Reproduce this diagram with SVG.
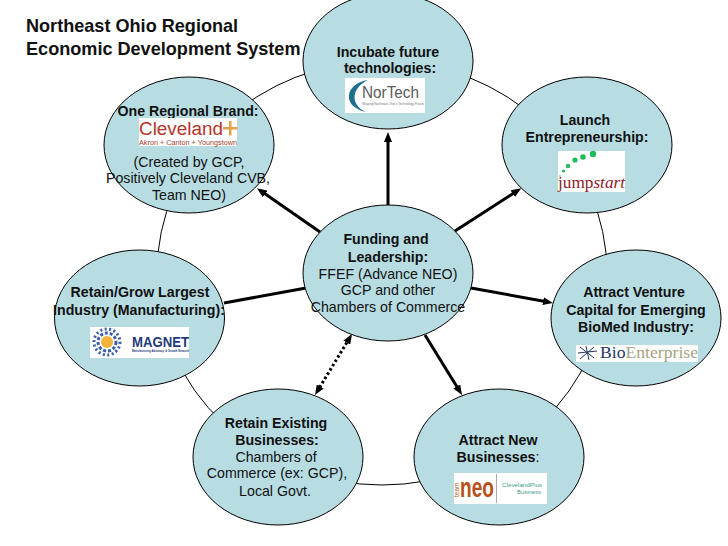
<svg xmlns="http://www.w3.org/2000/svg" width="728" height="546" viewBox="0 0 728 546">
<style>
text{font-family:"Liberation Sans",Arial,sans-serif;fill:#111}
.t{font-size:14.2px;text-anchor:middle}
.b{font-weight:bold}
.title{font-size:18.1px;font-weight:bold}
.n{fill:#b7dde3;stroke:#000;stroke-width:1}
.a{stroke:#000;stroke-width:3;fill:none}
.logo{fill:#fff}
</style>
<defs>
<marker id="ah" markerUnits="userSpaceOnUse" markerWidth="10" markerHeight="8" refX="5" refY="4" orient="auto-start-reverse" viewBox="0 0 10 8"><path d="M0 0L10 4L0 8z" fill="#000"/></marker>
</defs>
<rect width="728" height="546" fill="#fff"/>
<ellipse cx="382" cy="273" rx="225" ry="212" fill="none" stroke="#000" stroke-width="1"/>
<g id="title"><text class="title" x="26" y="32">Northeast Ohio Regional</text><text class="title" x="26" y="55">Economic Development System</text></g>
<g id="connectors">
<path class="a" d="M388 205V137" marker-end="url(#ah)"/>
<path class="a" d="M320 232L261 191" marker-end="url(#ah)"/>
<path class="a" d="M455 231L517 191" marker-end="url(#ah)"/>
<path class="a" d="M471 288L548 302" marker-end="url(#ah)"/>
<path class="a" d="M306 288L224 303"/>
<path class="a" d="M425 335L459.4 390.7" marker-end="url(#ah)"/>
<path class="a" stroke-dasharray="2.5 2.5" d="M349.4 338.3L317.6 390.7" marker-start="url(#ah)" marker-end="url(#ah)"/>
</g>
<g id="center"><ellipse class="n" cx="388" cy="273" rx="85" ry="68"/>
<text class="t b" x="386" y="244">Funding and</text><text class="t b" x="388" y="262">Leadership:</text>
<text class="t" x="388" y="279">FFEF (Advance NEO)</text><text class="t" x="388" y="295">GCP and other</text><text class="t" x="388" y="312">Chambers of Commerce</text></g>
<g id="incubate"><ellipse class="n" cx="388" cy="61" rx="85" ry="68"/>
<text class="t b" x="388" y="57">Incubate future</text><text class="t b" x="390" y="73">technologies:</text>
<rect class="logo" x="345" y="78" width="80" height="35"/>
<path d="M368 80C346 83 340 106 366 112C350 105 351 88 368 80Z" fill="#1d6f8c"/>
<text x="362" y="98" textLength="57" lengthAdjust="spacingAndGlyphs" style="font-size:17px;fill:#5a5a5a">NorTech</text>
<text x="362" y="105" textLength="62" lengthAdjust="spacingAndGlyphs" style="font-size:3.4px;fill:#777">Shaping Northeast Ohio's Technology Future</text></g>
<g id="brand"><ellipse class="n" cx="189" cy="145" rx="85" ry="68"/>
<text class="t b" x="188" y="116">One Regional Brand:</text>
<rect class="logo" x="139" y="118" width="98" height="28"/>
<text x="139" y="135" textLength="84" lengthAdjust="spacingAndGlyphs" style="font-size:18px;fill:#b5342a">Cleveland</text>
<path d="M229 121h2.500v6h6v2.500h-6v6h-2.500v-6h-6v-2.500h6z" fill="#e5a04a"/>
<text x="139" y="144.500" textLength="98" lengthAdjust="spacingAndGlyphs" style="font-size:6.600px;fill:#a8402f">Akron + Canton + Youngstown</text>
<text class="t" x="189" y="167">(Created by GCP,</text><text class="t" x="188" y="183">Positively Cleveland CVB,</text><text class="t" x="189" y="200">Team NEO)</text></g>
<g id="launch"><ellipse class="n" cx="587" cy="145" rx="85" ry="68"/>
<text class="t b" x="585" y="125">Launch</text><text class="t b" x="587" y="142">Entrepreneurship:</text>
<rect class="logo" x="558" y="151" width="67" height="41"/>
<g fill="#1fbd5a"><circle cx="593" cy="154" r="3.200"/><circle cx="583" cy="157" r="2.800"/><circle cx="575" cy="160" r="2.600"/><circle cx="568" cy="166" r="2.200"/><circle cx="563.500" cy="171" r="1.600"/><circle cx="560" cy="176" r=".8"/></g>
<text x="558" y="188" textLength="67" lengthAdjust="spacingAndGlyphs" style="font-size:17px;font-family:'Liberation Serif',serif;fill:#8c1c2c">jump<tspan font-style="italic" style="fill:#8c1c2c">start</tspan></text></g>
<g id="venture"><ellipse class="n" cx="636" cy="318" rx="85" ry="68"/>
<text class="t b" x="634" y="297">Attract Venture</text><text class="t b" x="636" y="315">Capital for Emerging</text><text class="t b" x="636" y="332">BioMed Industry:</text>
<rect class="logo" x="576" y="345" width="122" height="17"/>
<path d="M578 353L597 351M586 346L589 360M580 347L594 358M594 347L580 359" stroke="#24365f" stroke-width="1"/>
<text x="600" y="358" textLength="98" lengthAdjust="spacingAndGlyphs" style="font-size:17px;font-family:'Liberation Serif',serif;fill:#24365f">Bio<tspan style="fill:#a5a47f">Enterprise</tspan></text></g>
<g id="retain-largest"><ellipse class="n" cx="139.500" cy="318" rx="85" ry="68"/>
<text class="t b" x="140" y="297">Retain/Grow Largest</text><text class="t b" x="139" y="315">Industry (Manufacturing):</text>
<rect class="logo" x="90" y="327" width="99" height="31"/>
<circle cx="107" cy="342" r="13" fill="none" stroke="#3a5fa8" stroke-width="3" stroke-dasharray="2 2.500"/><circle cx="107" cy="342" r="9" fill="none" stroke="#3a5fa8" stroke-width="3" stroke-dasharray="3 2"/><circle cx="107" cy="342" r="6" fill="#f2b33d"/>
<text x="132" y="347" textLength="57" lengthAdjust="spacingAndGlyphs" style="font-size:15px;font-weight:bold;fill:#1f3a7a">MAGNET</text>
<text x="132" y="351.500" textLength="57" lengthAdjust="spacingAndGlyphs" style="font-size:3.300px;font-weight:bold;fill:#1f3a7a">Manufacturing Advocacy &amp; Growth Network</text></g>
<g id="retain-existing"><ellipse class="n" cx="278" cy="457" rx="85" ry="68"/>
<text class="t b" x="276" y="428">Retain Existing</text><text class="t b" x="277" y="445">Businesses:</text>
<text class="t" x="276" y="462">Chambers of</text><text class="t" x="277" y="478">Commerce (ex: GCP),</text><text class="t" x="275" y="496">Local Govt.</text></g>
<g id="attract-new"><ellipse class="n" cx="499" cy="457" rx="85" ry="68"/>
<text class="t b" x="498" y="445">Attract New</text><text class="t" x="498" y="462"><tspan class="b">Businesses</tspan>:</text>
<rect class="logo" x="454" y="473" width="93" height="31"/>
<text transform="translate(460 497) scale(.68 1)" style="font-size:28px;font-weight:bold;fill:#b8501c">neo</text>
<text transform="translate(459 497) rotate(-90)" style="font-size:6.500px;fill:#b8501c">team</text>
<path d="M496.500 474V503" stroke="#aaa"/>
<text x="502" y="486.500" textLength="40" lengthAdjust="spacingAndGlyphs" style="font-size:5px;fill:#3f9b8c">ClevelandPlus</text><text x="517" y="494" textLength="24" lengthAdjust="spacingAndGlyphs" style="font-size:5px;fill:#3f9b8c">Business</text></g>
</svg>
